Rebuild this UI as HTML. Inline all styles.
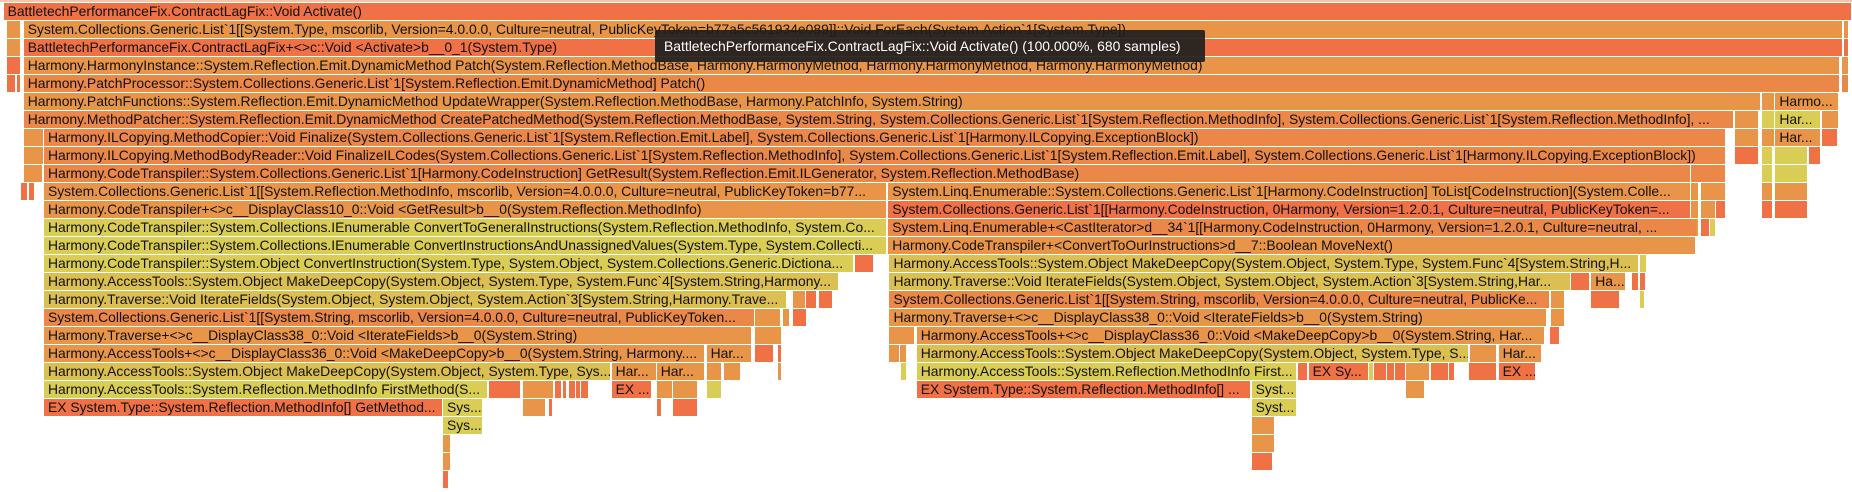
<!DOCTYPE html>
<html><head><meta charset="utf-8">
<style>
html,body{margin:0;padding:0;background:#fff;width:1852px;height:492px;overflow:hidden;}
#chart{position:relative;width:1852px;height:492px;font-family:"Liberation Sans",sans-serif;font-size:13.9px;}
.f{position:absolute;height:17px;line-height:17px;overflow:hidden;white-space:nowrap;color:#111;box-sizing:border-box;padding-left:4px;}
#topline{position:absolute;left:0;top:0;width:1852px;height:2px;background:#f5c4ad;}
#tip{position:absolute;left:655px;top:30px;width:550px;height:32px;background:rgba(30,30,30,0.92);color:#fff;line-height:32px;padding-left:9px;box-sizing:border-box;font-size:13.9px;border-radius:2px;white-space:nowrap;}
</style></head>
<body>
<div id="chart">
<div id="topline"></div>
</div>
<script>
// Frame data: row depth, start unit, end unit, colour key, label (units: 1557 = all samples)
const frames = [
[0,3,1559,'R','BattletechPerformanceFix.ContractLagFix::Void Activate()'],
[1,6,17,'O',''],[1,20,1551,'O','System.Collections.Generic.List`1[[System.Type, mscorlib, Version=4.0.0.0, Culture=neutral, PublicKeyToken=b77a5c561934e089]]::Void ForEach(System.Action`1[System.Type])'],[1,1553,1556,'O',''],
[2,6,17,'O',''],[2,20,1551,'R','BattletechPerformanceFix.ContractLagFix+<>c::Void <Activate>b__0_1(System.Type)'],[2,1553,1556,'R',''],
[3,6,17,'R',''],[3,20,1549,'O','Harmony.HarmonyInstance::System.Reflection.Emit.DynamicMethod Patch(System.Reflection.MethodBase, Harmony.HarmonyMethod, Harmony.HarmonyMethod, Harmony.HarmonyMethod)'],[3,1551,1556,'O',''],
[4,6,13,'R',''],[4,14,17,'R',''],[4,20,1549,'M','Harmony.PatchProcessor::System.Collections.Generic.List`1[System.Reflection.Emit.DynamicMethod] Patch()'],[4,1551,1556,'M',''],
[5,20,1482,'O','Harmony.PatchFunctions::System.Reflection.Emit.DynamicMethod UpdateWrapper(System.Reflection.MethodBase, Harmony.PatchInfo, System.String)'],[5,1484,1494,'O',''],[5,1495,1548,'O','Harmo...'],
[6,20,1459,'M','Harmony.MethodPatcher::System.Reflection.Emit.DynamicMethod CreatePatchedMethod(System.Reflection.MethodBase, System.String, System.Collections.Generic.List`1[System.Reflection.MethodInfo], System.Collections.Generic.List`1[System.Reflection.MethodInfo], ...'],[6,1461,1480,'O',''],[6,1484,1494,'Y',''],[6,1495,1533,'Y','Har...'],[6,1534,1548,'O',''],
[7,20,36,'O',''],[7,37,1453,'M','Harmony.ILCopying.MethodCopier::Void Finalize(System.Collections.Generic.List`1[System.Reflection.Emit.Label], System.Collections.Generic.List`1[Harmony.ILCopying.ExceptionBlock])'],[7,1461,1480,'O',''],[7,1484,1494,'O',''],[7,1495,1533,'O','Har...'],[7,1534,1547,'R',''],
[8,20,36,'O',''],[8,37,1453,'M','Harmony.ILCopying.MethodBodyReader::Void FinalizeILCodes(System.Collections.Generic.List`1[System.Reflection.MethodInfo], System.Collections.Generic.List`1[System.Reflection.Emit.Label], System.Collections.Generic.List`1[Harmony.ILCopying.ExceptionBlock])'],[8,1461,1480,'R',''],[8,1484,1492,'Y',''],[8,1495,1522,'Y',''],[8,1523,1533,'R',''],
[9,20,35,'O',''],[9,37,1423,'M','Harmony.CodeTranspiler::System.Collections.Generic.List`1[Harmony.CodeInstruction] GetResult(System.Reflection.Emit.ILGenerator, System.Reflection.MethodBase)'],[9,1424,1453,'M',''],[9,1484,1492,'Y',''],[9,1495,1522,'Y',''],
[10,18,23,'R',''],[10,24,29,'R',''],[10,37,746,'O','System.Collections.Generic.List`1[[System.Reflection.MethodInfo, mscorlib, Version=4.0.0.0, Culture=neutral, PublicKeyToken=b77...'],[10,748,1423,'O','System.Linq.Enumerable::System.Collections.Generic.List`1[Harmony.CodeInstruction] ToList[CodeInstruction](System.Colle...'],[10,1424,1430,'O',''],[10,1432,1453,'O',''],[10,1484,1492,'O',''],[10,1495,1522,'O',''],
[11,37,746,'O','Harmony.CodeTranspiler+<>c__DisplayClass10_0::Void <GetResult>b__0(System.Reflection.MethodInfo)'],[11,748,1423,'R','System.Collections.Generic.List`1[[Harmony.CodeInstruction, 0Harmony, Version=1.2.0.1, Culture=neutral, PublicKeyToken=...'],[11,1424,1430,'O',''],[11,1432,1444,'O',''],[11,1445,1453,'R',''],[11,1484,1492,'R',''],[11,1495,1522,'R',''],
[12,37,746,'Y','Harmony.CodeTranspiler::System.Collections.IEnumerable ConvertToGeneralInstructions(System.Reflection.MethodInfo, System.Co...'],[12,748,1428,'M','System.Linq.Enumerable+<CastIterator>d__34`1[[Harmony.CodeInstruction, 0Harmony, Version=1.2.0.1, Culture=neutral, ...'],[12,1428,1430,'O',''],[12,1432,1439,'R',''],[12,1440,1444,'Y',''],
[13,37,746,'Y','Harmony.CodeTranspiler::System.Collections.IEnumerable ConvertInstructionsAndUnassignedValues(System.Type, System.Collecti...'],[13,748,1427,'O','Harmony.CodeTranspiler+<ConvertToOurInstructions>d__7::Boolean MoveNext()'],
[14,37,718,'Y','Harmony.CodeTranspiler::System.Object ConvertInstruction(System.Type, System.Object, System.Collections.Generic.Dictiona...'],[14,720,735,'R',''],[14,749,1379,'K','Harmony.AccessTools::System.Object MakeDeepCopy(System.Object, System.Type, System.Func`4[System.String,H...'],[14,1381,1386,'Y',''],
[15,37,706,'K','Harmony.AccessTools::System.Object MakeDeepCopy(System.Object, System.Type, System.Func`4[System.String,Harmony...'],[15,749,1322,'K','Harmony.Traverse::Void IterateFields(System.Object, System.Object, System.Action`3[System.String,Har...'],[15,1323,1338,'R',''],[15,1340,1368,'O','Ha...'],[15,1374,1379,'R',''],[15,1381,1385,'R',''],
[16,37,662,'K','Harmony.Traverse::Void IterateFields(System.Object, System.Object, System.Action`3[System.String,Harmony.Trave...'],[16,668,678,'O',''],[16,679,687,'R',''],[16,690,701,'R',''],[16,749,1304,'M','System.Collections.Generic.List`1[[System.String, mscorlib, Version=4.0.0.0, Culture=neutral, PublicKe...'],[16,1306,1317,'O',''],[16,1340,1363,'R',''],[16,1381,1384,'Y',''],
[17,37,635,'M','System.Collections.Generic.List`1[[System.String, mscorlib, Version=4.0.0.0, Culture=neutral, PublicKeyToken...'],[17,636,657,'O',''],[17,659,664,'O',''],[17,668,679,'R',''],[17,749,1302,'O','Harmony.Traverse+<>c__DisplayClass38_0::Void <IterateFields>b__0(System.String)'],[17,1306,1317,'O',''],
[18,37,632,'O','Harmony.Traverse+<>c__DisplayClass38_0::Void <IterateFields>b__0(System.String)'],[18,636,658,'O',''],[18,749,770,'O',''],[18,772,1300,'O','Harmony.AccessTools+<>c__DisplayClass36_0::Void <MakeDeepCopy>b__0(System.String, Har...'],[18,1305,1313,'R',''],
[19,37,593,'O','Harmony.AccessTools+<>c__DisplayClass36_0::Void <MakeDeepCopy>b__0(System.String, Harmony....'],[19,595,632,'O','Har...'],[19,636,651,'R',''],[19,655,658,'R',''],[19,749,757,'O',''],[19,758,763,'O',''],[19,772,1236,'K','Harmony.AccessTools::System.Object MakeDeepCopy(System.Object, System.Type, S...'],[19,1238,1260,'O',''],[19,1262,1298,'O','Har...'],
[20,37,514,'K','Harmony.AccessTools::System.Object MakeDeepCopy(System.Object, System.Type, Sys...'],[20,515,552,'O','Har...'],[20,553,593,'O','Har...'],[20,595,607,'O',''],[20,610,623,'O',''],[20,655,658,'O',''],[20,759,763,'Y',''],[20,772,1091,'Y','Harmony.AccessTools::System.Reflection.MethodInfo First...'],[20,1093,1101,'R',''],[20,1102,1152,'R','EX Sy...'],[20,1153,1156,'Y',''],[20,1157,1167,'R',''],[20,1168,1174,'R',''],[20,1175,1183,'R',''],[20,1184,1203,'O',''],[20,1205,1219,'R',''],[20,1220,1224,'R',''],[20,1237,1260,'R',''],[20,1262,1293,'R','EX ...'],
[21,37,410,'Y','Harmony.AccessTools::System.Reflection.MethodInfo FirstMethod(S...'],[21,412,438,'R',''],[21,440,466,'O',''],[21,467,472,'R',''],[21,474,477,'R',''],[21,479,484,'R',''],[21,485,488,'R',''],[21,489,495,'R',''],[21,515,548,'R','EX ...'],[21,553,566,'O',''],[21,567,587,'O',''],[21,595,607,'Y',''],[21,772,1053,'R','EX System.Type::System.Reflection.MethodInfo[] ...'],[21,1054,1091,'Y','Syst...'],[21,1184,1199,'O',''],
[22,37,372,'R','EX System.Type::System.Reflection.MethodInfo[] GetMethod...'],[22,373,406,'Y','Sys...'],[22,440,459,'O',''],[22,462,465,'R',''],[22,553,557,'R',''],[22,567,587,'R',''],[22,1054,1091,'Y','Syst...'],
[23,373,406,'Y','Sys...'],[23,1054,1073,'O',''],
[24,373,379,'O',''],[24,1054,1073,'O',''],
[25,373,379,'O',''],[25,1054,1071,'R',''],
[26,373,377,'R','']
];
const colorKeys = {R:'#f07145',O:'#e8954a',M:'#eb8749',Y:'#dacd55',K:'#dcbf52'};
const UNIT = 1.1875, ROW_H = 18, ROW_TOP = 3;
function xScale(u){return u*UNIT;}
function yScale(row){return ROW_TOP + row*ROW_H;}
const chart = document.getElementById('chart');
frames.forEach(function(fr){
  const el = document.createElement('div');
  el.className = 'f';
  const x0 = xScale(fr[1]), x1 = xScale(fr[2]);
  el.style.left = x0 + 'px';
  el.style.width = Math.max(2, x1 - x0) + 'px';
  el.style.top = yScale(fr[0]) + 'px';
  el.style.background = colorKeys[fr[3]];
  if ((x1 - x0) < 14) el.style.paddingLeft = '0';
  el.textContent = fr[4];
  
  
  chart.appendChild(el);
});
const tip = document.createElement('div');
tip.id = 'tip';
tip.textContent = 'BattletechPerformanceFix.ContractLagFix::Void Activate() (100.000%, 680 samples)';


chart.appendChild(tip);
</script>
</body></html>
